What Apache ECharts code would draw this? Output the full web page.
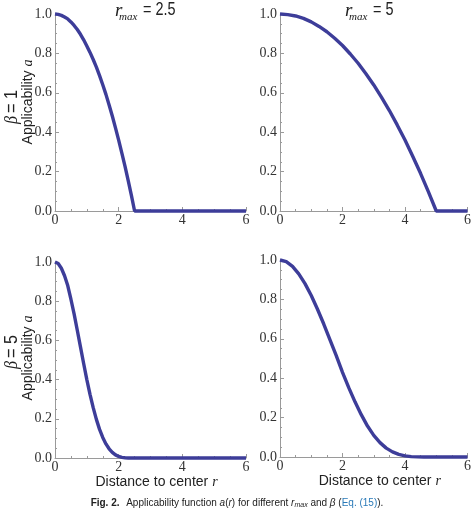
<!DOCTYPE html>
<html>
<head>
<meta charset="utf-8">
<script src="https://cdn.jsdelivr.net/npm/echarts@6/dist/echarts.min.js"></script>
<style>
html, body { margin: 0; padding: 0; background: #fff; }
#chart { width: 474px; height: 512px; }
</style>
</head>
<body>
<div id="chart"></div>
<script>
// distance r and applicability a
var rTopLeft = [0, 0.1, 0.2, 0.3, 0.4, 0.5, 0.6, 0.7, 0.8, 0.9, 1.0, 1.1, 1.2, 1.3, 1.4, 1.5, 1.6, 1.7, 1.8, 1.9, 2.0, 2.1, 2.2, 2.3, 2.4, 2.5, 6];
var aTopLeft = [1.0, 0.998, 0.993, 0.985, 0.975, 0.96, 0.942, 0.921, 0.897, 0.869, 0.838, 0.805, 0.769, 0.73, 0.687, 0.641, 0.592, 0.538, 0.482, 0.422, 0.36, 0.294, 0.226, 0.154, 0.079, 0, 0];

var rTopRight = [0, 0.25, 0.5, 0.75, 1.0, 1.25, 1.5, 1.75, 2.0, 2.25, 2.5, 2.75, 3.0, 3.25, 3.5, 3.75, 4.0, 4.25, 4.5, 4.75, 5.0, 6];
var aTopRight = [1.0, 0.997, 0.99, 0.978, 0.96, 0.937, 0.91, 0.877, 0.84, 0.797, 0.75, 0.697, 0.64, 0.577, 0.51, 0.437, 0.36, 0.277, 0.19, 0.097, 0, 0];

var rBottomLeft = [0, 0.1, 0.2, 0.3, 0.4, 0.5, 0.6, 0.7, 0.8, 0.9, 1.0, 1.1, 1.2, 1.3, 1.4, 1.5, 1.6, 1.7, 1.8, 1.9, 2.0, 2.1, 2.2, 2.3, 6];
var aBottomLeft = [1.0, 0.992, 0.968, 0.93, 0.88, 0.81, 0.735, 0.652, 0.567, 0.482, 0.40, 0.325, 0.257, 0.197, 0.146, 0.105, 0.072, 0.047, 0.029, 0.016, 0.008, 0.003, 0.001, 0, 0];

var rBottomRight = [0, 0.2, 0.4, 0.6, 0.8, 1.0, 1.2, 1.4, 1.6, 1.8, 2.0, 2.2, 2.4, 2.6, 2.8, 3.0, 3.2, 3.4, 3.6, 3.8, 4.0, 4.2, 4.4, 4.6, 6];
var aBottomRight = [1.0, 0.992, 0.968, 0.93, 0.88, 0.82, 0.75, 0.675, 0.595, 0.515, 0.43, 0.352, 0.28, 0.215, 0.157, 0.11, 0.073, 0.045, 0.026, 0.013, 0.006, 0.002, 0.0005, 0, 0];

var panelTitles = ['= 2.5', '= 5'];
var rowLabels = ['= 1', '= 5'];

var chart = echarts.init(document.getElementById('chart'));

var lineColor = '#3d3d99';
var axisGray = '#9a9a9a';
var serif = 'Liberation Serif';
var sans = 'Liberation Sans';

var pairs = function (xs, ys) {
    return xs.map(function (x, i) { return [x, ys[i]]; });
};

var makeX = function (gi, withName) {
    var ax = {
        type: 'value', gridIndex: gi, min: 0, max: 6, interval: 2,
        axisLine: { show: true, onZero: false, lineStyle: { color: axisGray, width: 1 } },
        axisTick: { show: true, inside: true, length: 4, lineStyle: { color: axisGray } },
        minorTick: { show: true, splitNumber: 4, length: 2, lineStyle: { color: axisGray } },
        splitLine: { show: false },
        axisLabel: { fontFamily: serif, fontSize: 14, color: '#333', margin: 2 }
    };
    if (withName) {
        ax.name = '{s|Distance to center }{i|r}';
        ax.nameLocation = 'middle';
        ax.nameGap = 15;
        ax.nameTextStyle = {
            padding: [0, 0, 0, 12],
            rich: {
                s: { fontFamily: sans, fontSize: 14, color: '#222' },
                i: { fontFamily: serif, fontStyle: 'italic', fontSize: 14, color: '#222' }
            }
        };
    }
    return ax;
};

var makeY = function (gi) {
    return {
        type: 'value', gridIndex: gi, min: 0, max: 1, interval: 0.2,
        axisLine: { show: true, onZero: false, lineStyle: { color: axisGray, width: 1 } },
        axisTick: { show: true, inside: true, length: 4, lineStyle: { color: axisGray } },
        minorTick: { show: true, splitNumber: 4, length: 2, lineStyle: { color: axisGray } },
        splitLine: { show: false },
        axisLabel: {
            fontFamily: serif, fontSize: 14, color: '#333', margin: 3,
            formatter: function (v) { return v.toFixed(1); }
        }
    };
};

var makeSeries = function (gi, xs, ys) {
    return {
        type: 'line', xAxisIndex: gi, yAxisIndex: gi,
        data: pairs(xs, ys),
        showSymbol: false, smooth: false, clip: false,
        lineStyle: { color: lineColor, width: 3.4 },
        animation: false
    };
};

var yName = function (y) {
    return {
        type: 'text', x: 28, y: y, rotation: Math.PI / 2,
        style: {
            text: '{s|Applicability }{i|a}',
            align: 'center', verticalAlign: 'middle',
            rich: {
                s: { fontFamily: sans, fontSize: 14, fill: '#222' },
                i: { fontFamily: serif, fontStyle: 'italic', fontSize: 14, fill: '#222' }
            }
        }
    };
};

var betaLabel = function (y, txt) {
    return {
        type: 'text', x: 12, y: y, rotation: Math.PI / 2, scaleX: 0.85,
        style: {
            text: '{b|β} {s|' + txt + '}',
            align: 'center', verticalAlign: 'middle',
            rich: {
                b: { fontFamily: serif, fontStyle: 'italic', fontSize: 19, fill: '#222' },
                s: { fontFamily: sans, fontSize: 19, fill: '#222' }
            }
        }
    };
};

var titleParts = function (x, txt) {
    return [
        { type: 'text', x: x, y: 1, style: { text: 'r', fontFamily: serif, fontStyle: 'italic', fontSize: 19, fill: '#222' } },
        { type: 'text', x: x + 4, y: 12, style: { text: 'max', fontFamily: serif, fontStyle: 'italic', fontSize: 11, fill: '#222' } },
        { type: 'text', x: x + 28, y: 0, scaleX: 0.76, style: { text: txt, fontFamily: sans, fontSize: 19, fill: '#222' } }
    ];
};

var captionRich = {
    b: { fontFamily: sans, fontWeight: 'bold', fontSize: 10, fill: '#222' },
    n: { fontFamily: sans, fontSize: 10, fill: '#222' },
    i: { fontFamily: sans, fontStyle: 'italic', fontSize: 10, fill: '#222' },
    m: { fontFamily: sans, fontStyle: 'italic', fontSize: 7, fill: '#222', verticalAlign: 'bottom', padding: [4, 0, 0, 0] },
    l: { fontFamily: sans, fontSize: 10, fill: '#2a7ab8' }
};

chart.setOption({
    backgroundColor: '#fff',
    animation: false,
    grid: [
        { left: 55, right: 228, top: 14, bottom: 301 },
        { left: 280, right: 4, top: 14, bottom: 301 },
        { left: 55, right: 228, top: 262, bottom: 54 },
        { left: 280, right: 4, top: 260, bottom: 55 }
    ],
    xAxis: [makeX(0, false), makeX(1, false), makeX(2, true), makeX(3, true)],
    yAxis: [makeY(0), makeY(1), makeY(2), makeY(3)],
    series: [
        makeSeries(0, rTopLeft, aTopLeft),
        makeSeries(1, rTopRight, aTopRight),
        makeSeries(2, rBottomLeft, aBottomLeft),
        makeSeries(3, rBottomRight, aBottomRight)
    ],
    graphic: [
        yName(102), yName(358),
        betaLabel(107, rowLabels[0]), betaLabel(352, rowLabels[1]),
        {
            type: 'text', x: 237, y: 503,
            style: {
                text: '{b|Fig. 2.}  {n|Applicability function }{i|a}{n|(}{i|r}{n|) for different }{i|r}{m|max}{n| and }{i|β}{n| (}{l|Eq. (15)}{n|).}',
                align: 'center', verticalAlign: 'middle',
                rich: captionRich
            }
        }
    ].concat(titleParts(115, panelTitles[0]), titleParts(345, panelTitles[1]))
});
</script>
</body>
</html>
